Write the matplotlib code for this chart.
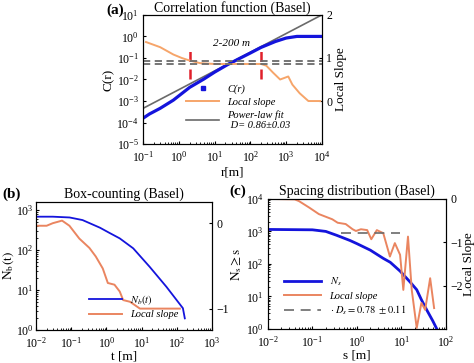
import numpy as np
import matplotlib
matplotlib.use('Agg')
import matplotlib.pyplot as plt
from matplotlib.lines import Line2D

plt.rcParams['font.family'] = ['Liberation Serif', 'DejaVu Serif']
plt.rcParams['mathtext.fontset'] = 'stix'
plt.rcParams['xtick.direction'] = 'in'
plt.rcParams['ytick.direction'] = 'in'
plt.rcParams['xtick.labelsize'] = 8.5
plt.rcParams['ytick.labelsize'] = 8.5

# (a) correlation function
r_corr = [0.1, 0.15, 0.3, 0.7, 2, 5, 10, 22, 50, 100, 200, 500, 1000, 2000, 5000, 10000]
C_r = [1.6e-4, 2.5e-4, 4.6e-4, 1.1e-3, 4.3e-3, 1.05e-2, 2.2e-2, 4.7e-2,
       9.5e-2, 0.17, 0.31, 0.58, 0.84, 1.0, 1.0, 1.0]
slope_r = [0.12, 0.3, 0.7, 1.2, 2, 3.9, 10, 200, 280, 430, 680, 1150, 1500, 2400, 4200, 9000]
slope_a = [1.37, 1.25, 1.08, 1.0, 0.94, 0.88, 0.86, 0.86, 0.82, 0.66, 0.5, 0.57, 0.38, 0.18, 0.0, 0.0]
fit_r = [0.1, 1e4]
fit_C = [4.6e-4, 10.0]
band_levels = [0.92, 0.86]
range_r = [2, 200]

# (b) box-counting
t_box = [0.01, 0.03, 0.09, 0.21, 0.66, 1.2, 2.4, 5.8, 17, 51, 150, 170]
Nb = [680, 680, 650, 560, 360, 270, 195, 110, 38, 12, 3.5, 1.95]
t_slope = [0.01, 0.02, 0.03, 0.055, 0.089, 0.17, 0.33, 0.5, 0.79, 1.1, 1.7, 2.4, 3.0, 4.7, 9, 123]
b_slope = [-0.03, -0.03, 0.0, 0.03, -0.03, -0.18, -0.29, -0.39, -0.53, -0.70, -0.72, -0.80, -0.90, -0.92, -1.0, -1.0]

# (c) spacing distribution
s_sp = [0.01, 0.1, 0.2, 0.35, 0.7, 1, 2, 3.9, 5.6, 9.3, 15.5, 22, 28, 37, 50, 62]
Ns = [1150, 1120, 1000, 760, 525, 420, 265, 148, 112, 60, 28, 16, 7.9, 3.8, 1.8, 1.0]
s_slope = [0.01, 0.04, 0.05, 0.085, 0.14, 0.28, 0.37, 0.56, 0.8, 0.95, 1.23, 1.7, 2.1, 2.8,
           3.9, 5.5, 7.1, 9.3, 11, 14, 17, 22, 28, 34, 44, 54]
c_slope = [0, -0.01, -0.05, -0.2, -0.35, -0.47, -0.55, -0.58, -0.7, -0.74, -0.7, -0.72, -0.93, -0.72,
           -0.79, -1.33, -1.02, -1.29, -2.1, -0.87, -2.1, -2.98, -2.4, -2.56, -1.83, -2.52]
Ds_range = [0.43, 9.5]
Ds_level = -0.78

blue = '#1414dc'
orange_a = '#f6a56a'
orange = '#ea8560'
gray = '#6a6a6a'
red = '#e0202a'

fig = plt.figure(figsize=(4.74, 3.63), dpi=100)

# ---- panel a
ax = fig.add_axes([0.302, 0.603, 0.377, 0.356])
ax.plot(fit_r, fit_C, color=gray, lw=1.2, zorder=2)
ax.plot(r_corr, C_r, color=blue, lw=2.3, zorder=3)
for rr in range_r:
    ax.plot([rr, rr], [0.01, 0.28], color=red, lw=1.8, ls=(0, (4, 3)), zorder=4)
ax.set_xscale('log')
ax.set_yscale('log')
ax.set_xlim(0.1, 1e4)
ax.set_ylim(1e-5, 10)
ax.set_yticks([1e-5, 1e-4, 1e-3, 1e-2, 1e-1, 1, 10])
ax.set_xlabel('r[m]', fontsize=9.5, labelpad=1)
ax.set_ylabel('C(r)', fontsize=9.5, labelpad=1)
ax.set_title('Correlation function (Basel)', fontsize=10, pad=2)
ax.text(30, 0.45, '2-200 m', style='italic', fontsize=8, ha='center', va='center')
ax2 = ax.twinx()
ax2.plot(slope_r, slope_a, color=orange_a, lw=1.4)
for lv in band_levels:
    ax2.axhline(lv, color=gray, lw=1.3, ls=(0, (4, 2.5)))
ax2.set_ylim(-1, 2)
ax2.set_yticks([0, 1, 2])
ax2.set_ylabel('Local Slope', fontsize=9.5, labelpad=2)
hs = [Line2D([], [], ls='none', marker='s', ms=2.2, color=blue),
      Line2D([], [], color=orange_a, lw=1.4),
      Line2D([], [], color=gray, lw=1.2)]
ax2.legend(hs, ['C(r)', 'Local slope', 'Power-law fit\n D= 0.86±0.03'], loc='upper left',
           bbox_to_anchor=(0.21, 0.5), frameon=False, prop={'style': 'italic', 'size': 7.5},
           handlelength=3.2, labelspacing=0.3, borderpad=0, numpoints=1)

# ---- panel b
bx = fig.add_axes([0.076, 0.091, 0.371, 0.353])
lb1, = bx.plot(t_box, Nb, color=blue, lw=1.3)
bx.set_xscale('log')
bx.set_yscale('log')
bx.set_xlim(0.01, 1000)
bx.set_ylim(1, 1600)
bx.set_xticks([1e-2, 1e-1, 1, 10, 100, 1000])
bx.set_yticks([1, 10, 100, 1000])
bx.set_xlabel('t [m]', fontsize=9.5, labelpad=0)
bx.set_title('Box-counting (Basel)', fontsize=10, pad=3)
bx2 = bx.twinx()
lb2, = bx2.plot(t_slope, b_slope, color=orange, lw=1.4)
bx2.set_ylim(-1.25, 0.25)
bx2.set_yticks([-1, 0])
bx2.legend([lb1, lb2], [r'$N_b(t)$', 'Local slope'], loc='upper left', bbox_to_anchor=(0.27, 0.33),
           frameon=False, prop={'style': 'italic', 'size': 7.5}, handlelength=3.2,
           labelspacing=0.3, borderpad=0)

# ---- panel c
cx = fig.add_axes([0.565, 0.094, 0.376, 0.358])
lc1, = cx.plot(s_sp, Ns, color=blue, lw=2.0)
cx.set_xscale('log')
cx.set_yscale('log')
cx.set_xlim(0.01, 100)
cx.set_ylim(1, 1e4)
cx.set_xticks([1e-2, 1e-1, 1, 10, 100])
cx.set_yticks([1, 10, 100, 1000, 1e4])
cx.set_xlabel('s [m]', fontsize=9.5, labelpad=0)
cx.set_ylabel(r'$\mathrm{N_s \geq s}$', fontsize=9.5, labelpad=1)
cx.set_title('Spacing distribution (Basel)', fontsize=10, pad=3)
cx2 = cx.twinx()
lc2, = cx2.plot(s_slope, c_slope, color=orange, lw=1.4)
lc3, = cx2.plot(Ds_range, [Ds_level, Ds_level], color=gray, lw=1.2, ls=(0, (6, 4)))
cx2.set_ylim(-3, 0)
cx2.set_yticks([-2, -1, 0])
cx2.set_ylabel('Local Slope', fontsize=9.5, labelpad=0)
cx2.legend([lc1, lc2, lc3], [r'$N_s$', 'Local slope', r'$\cdot\ D_s = 0.78\ \pm 0.11$'],
           loc='upper left', bbox_to_anchor=(0.06, 0.45), frameon=False,
           prop={'style': 'italic', 'size': 7.5}, handlelength=3.6, labelspacing=0.3, borderpad=0)

for a in [ax, ax2, bx, bx2, cx, cx2]:
    a.tick_params(length=2.5, pad=3)
    a.tick_params(which='minor', length=1.5)
    a.tick_params(axis='x', pad=4.5)
bx.tick_params(axis='y', pad=2)
bx.set_ylabel(r'$\mathrm{N_b(t)}$', fontsize=9.5, labelpad=0)

fig.text(0.225, 0.963, '(a)', fontsize=11, fontweight='bold')
fig.text(0.004, 0.455, '(b)', fontsize=11, fontweight='bold')
fig.text(0.483, 0.462, '(c)', fontsize=11, fontweight='bold')

fig.savefig('out.png', dpi=100)
